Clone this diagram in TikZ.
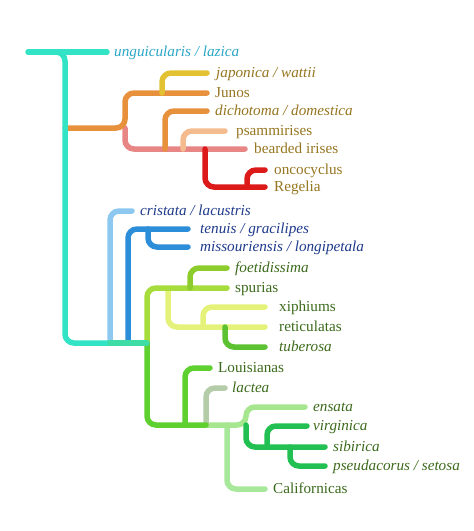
\documentclass[tikz,border=0pt]{standalone}
\usepackage{fontspec}
\setmainfont{Liberation Serif}
\definecolor{cteal}{HTML}{33E3C6}
\definecolor{ctealg}{HTML}{3FDDA6}
\definecolor{ttext}{HTML}{2AA6C6}
\definecolor{corange}{HTML}{E8913C}
\definecolor{cyellow}{HTML}{E2C233}
\definecolor{cpink}{HTML}{E88585}
\definecolor{clorange}{HTML}{F4BB8E}
\definecolor{cred}{HTML}{DC1A1A}
\definecolor{gtext}{HTML}{957520}
\definecolor{clblue}{HTML}{8CC8F0}
\definecolor{cblue}{HTML}{2C8ED8}
\definecolor{btext}{HTML}{1E3A8A}
\definecolor{cygreen}{HTML}{A6DC3C}
\definecolor{cfoet}{HTML}{8CCC2C}
\definecolor{cpale}{HTML}{E4F27A}
\definecolor{ctub}{HTML}{5CC232}
\definecolor{clouis}{HTML}{5ED030}
\definecolor{clact}{HTML}{B4CCA8}
\definecolor{cens}{HTML}{A6E68E}
\definecolor{ccal}{HTML}{A8E89A}
\definecolor{cdk}{HTML}{22C052}
\definecolor{ntext}{HTML}{3C6A1C}
\begin{document}
\begin{tikzpicture}[x=1pt,y=-1pt,
  br/.style={line width=5.5pt, line cap=round, rounded corners=9pt},
  lab/.style={anchor=west, inner sep=0pt, text height=9.6pt, text depth=0pt,
    font=\fontsize{15.2}{17}\selectfont}]
\useasboundingbox (0,0) rectangle (474,531);
% ---- labels ----
\node[lab, text=ttext] (ung) at (114,52) {\itshape unguicularis / lazica};
\node[lab, text=gtext] (jap) at (216,73) {\itshape japonica / wattii};
\node[lab, text=gtext] (jun) at (215,93) {Junos};
\node[lab, text=gtext] (dic) at (215,111) {\itshape dichotoma / domestica};
\node[lab, text=gtext] (psa) at (236,131) {psammirises};
\node[lab, text=gtext] (bea) at (254,149) {bearded irises};
\node[lab, text=gtext] (onc) at (274,170) {oncocyclus};
\node[lab, text=gtext] (reg) at (274,187) {Regelia};
\node[lab, text=btext] (cri) at (140,211) {\itshape cristata / lacustris};
\node[lab, text=btext] (ten) at (200,229) {\itshape tenuis / gracilipes};
\node[lab, text=btext] (mis) at (200,247) {\itshape missouriensis / longipetala};
\node[lab, text=ntext] (foe) at (235,268) {\itshape foetidissima};
\node[lab, text=ntext] (spu) at (235,288) {spurias};
\node[lab, text=ntext] (xip) at (279,307) {xiphiums};
\node[lab, text=ntext] (ret) at (279,327) {reticulatas};
\node[lab, text=ntext] (tub) at (279,347) {\itshape tuberosa};
\node[lab, text=ntext] (lou) at (218,368) {Louisianas};
\node[lab, text=ntext] (lac) at (232,388) {\itshape lactea};
\node[lab, text=ntext] (ens) at (313,407) {\itshape ensata};
\node[lab, text=ntext] (vir) at (313,426) {\itshape virginica};
\node[lab, text=ntext] (sib) at (333,447) {\itshape sibirica};
\node[lab, text=ntext] (pse) at (333,466) {\itshape pseudacorus / setosa};
\node[lab, text=ntext] (cal) at (273,489) {Californicas};
% ---- tips (line ends) ----
\coordinate (ungT) at (107,52);
\coordinate (japT) at (207,73);
\coordinate (junT) at (207,93);
\coordinate (dicT) at (207,111);
\coordinate (psaT) at (225,131);
\coordinate (beaT) at (245,149);
\coordinate (oncT) at (265,170);
\coordinate (regT) at (265,187);
\coordinate (criT) at (132,211);
\coordinate (tenT) at (188,229);
\coordinate (misT) at (188,247);
\coordinate (foeT) at (227,268);
\coordinate (spuT) at (227,288);
\coordinate (xipT) at (265,307);
\coordinate (retT) at (265,327);
\coordinate (tubT) at (265,347);
\coordinate (louT) at (210,368);
\coordinate (lacT) at (225,388);
\coordinate (ensT) at (305,407);
\coordinate (virT) at (307,426);
\coordinate (sibT) at (325,447);
\coordinate (pseT) at (325,466);
\coordinate (calT) at (265,489);
% ---- internal points ----
\coordinate (root) at (28,52);
\coordinate (trTop) at (45,52);
\coordinate (trBot) at (65,343);
\coordinate (oA) at (65,128);
\coordinate (oB) at (125,128);
\coordinate (jJ) at (162,93);
\coordinate (dJ) at (165,149);
\coordinate (pJ) at (183,149);
\coordinate (rJ) at (205,149);
\coordinate (oJ) at (247,187);
\coordinate (crJ) at (110,343);
\coordinate (teJ) at (128,343);
\coordinate (miJ) at (148,229);
\coordinate (gJ) at (147,343);
\coordinate (foJ) at (190,288);
\coordinate (reJ) at (168,288);
\coordinate (xiJ) at (203,327);
\coordinate (tuJ) at (225,327);
\coordinate (loJ) at (185,425);
\coordinate (laJ) at (206,425);
\coordinate (caJ) at (227,425);
\coordinate (enJ) at (246,425);
\coordinate (viJ) at (267,447);
\coordinate (psJ) at (290,447);
% ---- branches ----
% orange group
\draw[br, cpink] (oB) |- (beaT);
\draw[br, corange] (oA) -- (oB) |- (junT);
\draw[br, cyellow] (jJ) |- (japT);
\draw[br, corange] (dJ) |- (dicT);
\draw[br, clorange] (pJ) |- (psaT);
\draw[br, cred] (rJ) |- (regT);
\draw[br, cred] (oJ) |- (oncT);
% blue group
\draw[br, clblue] (crJ) |- (criT);
\draw[br, cblue] (teJ) |- (tenT);
\draw[br, cblue] (miJ) |- (misT);
% green upper
\draw[br, cpale] (reJ) |- (retT);
\draw[br, cpale] (xiJ) |- (xipT);
\draw[br, ctub] (tuJ) |- (tubT);
\draw[br, cygreen] (gJ) |- (spuT);
\draw[br, cfoet] (foJ) |- (foeT);
% green lower
\draw[br, ccal] (caJ) |- (calT);
\draw[br, cens] (laJ) -- (enJ) |- (ensT);
\draw[br, cdk] (enJ) |- (sibT);
\draw[br, cdk] (viJ) |- (virT);
\draw[br, cdk] (psJ) |- (pseT);
\draw[br, clact] (laJ) |- (lacT);
\draw[br, clouis] (gJ) |- (laJ);
\draw[br, clouis] (loJ) |- (louT);
% trunk
\draw[br, cteal] (root) -- (ungT);
\draw[br, cteal] (trTop) -| (trBot) -- (crJ);
\draw[br, ctealg] (crJ) -- (gJ);
\end{tikzpicture}
\end{document}
